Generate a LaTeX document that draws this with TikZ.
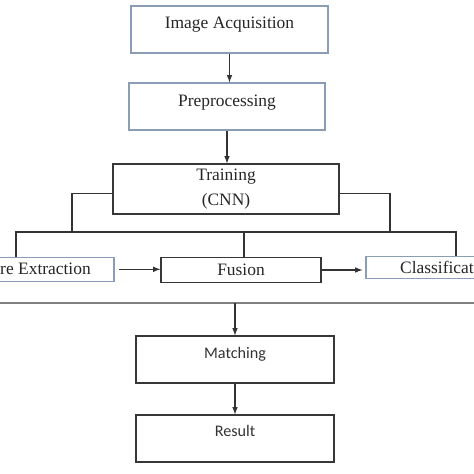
\documentclass[tikz,border=0pt]{standalone}
\usepackage{fontspec}
\setmainfont{Liberation Serif}
\newfontfamily\carlito{Carlito}
\definecolor{boxblue}{RGB}{138,157,181}
\definecolor{boxgray}{RGB}{55,55,55}
\begin{document}
\begin{tikzpicture}[x=0.025cm, y=-0.025cm,
        every node/.style={font=\fontsize{12.4}{17.4}\selectfont, text=black!85},
        stage/.style={draw=#1, line width=0.8pt, inner sep=0pt},
        link/.style={line width=0.8pt, black!80},
        flow/.style={link, -latex}]

        \useasboundingbox (0,0) rectangle (474,474);
        \clip (0,0) rectangle (474,474);

        % upper chain
        \node[stage=boxblue, minimum width=4.925cm, text height=0.57cm, text depth=0.605cm] (acq) at (229.5,29.5) {Image Acquisition};
        \node[stage=boxblue, minimum width=4.9cm, text height=0.59cm, text depth=0.585cm] (pre) at (227,106.5) {Preprocessing};
        \node[stage=boxgray, minimum width=5.65cm, minimum height=1.25cm, align=center] (train) at (226,189) {Training\\(CNN)};

        \draw[flow] (acq.south) -- (acq.south |- pre.north);
        \draw[flow] (pre.south) -- (pre.south |- train.north);

        % middle row
        \node[stage=boxblue, minimum width=3.425cm, minimum height=0.59cm] (feat) at (45.5,269.3) {re Extraction};
        \node[stage=boxgray, minimum width=4cm, minimum height=0.61cm] (fus) at (241,270) {Fusion};
        \node[stage=boxblue, minimum width=3.55cm, minimum height=0.55cm] (class) at (437,267.5) {Classificat};

        \coordinate (tl) at (72,232);
        \coordinate (tr) at (390,232);
        \coordinate (busl) at (16,232);
        \coordinate (busm) at (244,232);
        \coordinate (busr) at (456,232);
        \draw[link] ([yshift=-0.12cm]train.west) -| (tl);
        \draw[link] ([yshift=-0.12cm]train.east) -| (tr);
        \draw[link] (busl |- feat.north) -- (busl) -- (busr) -- (busr |- class.north);
        \draw[link] (busm) -- (busm |- fus.north);
        \draw[flow, shorten <=0.1cm] (feat.east) -- (feat.east -| fus.west);
        \draw[flow, shorten >=0.075cm] (fus.east) -- (fus.east -| class.west);

        \coordinate (sepl) at (0,303);
        \coordinate (sepr) at (474,303);
        \draw[gray, line width=1pt] (sepl) -- (sepr);

        % lower chain
        \node[stage=boxgray, font=\carlito\fontsize{11.5}{14}\selectfont, text=black!80, minimum width=4.95cm, text height=0.55cm, text depth=0.625cm] (match) at (235,359.5) {Matching};
        \node[stage=boxgray, font=\carlito\fontsize{11.5}{14}\selectfont, text=black!80, minimum width=4.95cm, text height=0.525cm, text depth=0.65cm] (res) at (235,438.5) {Result};

        \draw[flow] (match.north |- sepl) -- (match.north);
        \draw[flow] (match.south) -- (res.north);
    \end{tikzpicture}
\end{document}
